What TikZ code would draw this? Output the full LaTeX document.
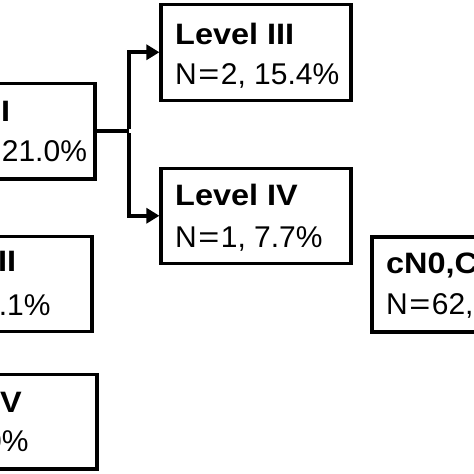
\documentclass[tikz,border=0pt]{standalone}
\usepackage{fontspec}
\setmainfont{Liberation Sans}[BoldFeatures={FakeStretch=1.1}]
\usetikzlibrary{arrows.meta}
\newcommand{\wideeq}{\makebox[24pt]{\scalebox{1.2}[1]{=}}}
\begin{document}
\begin{tikzpicture}[x=1pt,y=1pt,
  box/.style={draw=black, line width=3.2pt, rectangle, inner sep=0pt, fill=white},
  ttl/.style={anchor=base west, inner sep=0pt, font=\fontsize{29.5}{36}\selectfont\bfseries},
  sub/.style={anchor=base west, inner sep=0pt, font=\fontsize{30}{36}\selectfont},
  conn/.style={draw=black, line width=4pt},
  arr/.style={conn, -{Triangle[length=13pt,width=15pt]}}
]
\useasboundingbox (0,0) rectangle (474,-474);
\clip (0,0) rectangle (474,-474);
\fill[white] (0,0) rectangle (474,-474);

% boxes
\node[box, minimum width=203pt, minimum height=95.5pt] (l1) at (-6.5,-131.25) {};
\node[box, minimum width=190pt, minimum height=96pt] (l3) at (256,-52.25) {};
\node[box, minimum width=190pt, minimum height=95pt] (l4) at (256,-215.75) {};
\node[box, minimum width=203pt, minimum height=95pt] (l2) at (-9.5,-284) {};
\node[box, minimum width=205pt, minimum height=94.5pt] (l5) at (-5.5,-421.75) {};
\node[box, minimum width=190pt, minimum height=95pt] (cn) at (467,-284.5) {};

% texts
\node[ttl] (l1a) at (-91,-121.7) {Level I};
\node[sub] (l1b) at (-94,-161.7) {N\wideeq 17, 21.0\%};
\node[ttl] (l3a) at (175,-44.3) {Level III};
\node[sub] (l3b) at (175,-84) {N\wideeq 2, 15.4\%};
\node[ttl] (l4a) at (175,-205) {Level IV};
\node[sub] (l4b) at (175,-247.3) {N\wideeq 1, 7.7\%};
\node[ttl] (l2a) at (-94,-271.7) {Level II};
\node[sub] (l2b) at (-97,-315) {N\wideeq 5, 6.1\%};
\node[ttl] (l5a) at (-92,-412.7) {Level V};
\node[sub] (l5b) at (-94,-451.7) {N\wideeq 0, 0\%};
\node[ttl] (cna) at (386,-273) {cN0,CR};
\node[sub] (cnb) at (386,-314) {N\wideeq 62, 76.5\%};

% connectors
\coordinate (j) at (129,-131.25);
\draw[conn] (l1.east) -- (j);
\draw[arr] (129,-129) |- (l3.west);
\draw[arr] (129,-133) |- (l4.west);
\end{tikzpicture}
\end{document}
